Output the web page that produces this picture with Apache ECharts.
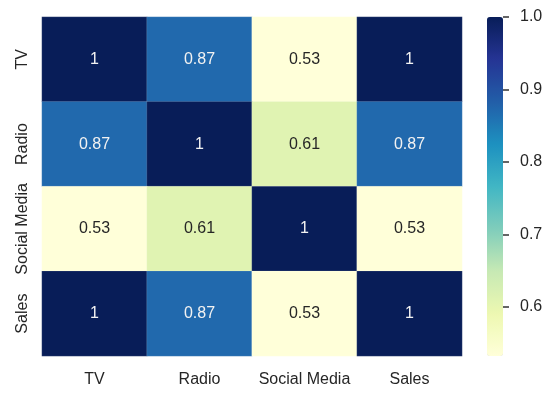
<!DOCTYPE html>
<html>
<head>
<meta charset="utf-8">
<script src="https://cdn.jsdelivr.net/npm/echarts@6/dist/echarts.min.js"></script>
<style>
  html, body { margin: 0; padding: 0; background: #fff; }
  #chart { width: 554px; height: 399px; }
</style>
</head>
<body>
<div id="chart"></div>
<script>
// correlation matrix, rows top to bottom
const labels = ['TV', 'Radio', 'Social Media', 'Sales'];
const rowTV = [1, 0.87, 0.53, 1];
const rowRadio = [0.87, 1, 0.61, 0.87];
const rowSocial = [0.53, 0.61, 1, 0.53];
const rowSales = [1, 0.87, 0.53, 1];
const colorbarTicks = [0.6, 0.7, 0.8, 0.9, 1.0];
const scaleMin = 0.532;
const scaleMax = 1;

const rows = [rowTV, rowRadio, rowSocial, rowSales];
const cells = [];
rows.forEach(function (row, y) {
    row.forEach(function (v, x) {
        cells.push({
            value: [x, y, v],
            label: { color: v > 0.8 ? '#f2f2f2' : '#262626' }
        });
    });
});

const chart = echarts.init(document.getElementById('chart'));
const font = 'Liberation Sans, Arial, sans-serif';

chart.setOption({
    animation: false,
    textStyle: { fontFamily: font },
    grid: [
        { left: 42, top: 17, width: 420, height: 339 },
        { left: 487, top: 17, width: 16, height: 339 }
    ],
    xAxis: [
        {
            type: 'category', gridIndex: 0, data: labels,
            axisLine: { show: false }, axisTick: { show: false },
            axisLabel: { interval: 0, color: '#262626', fontSize: 16, margin: 16, fontFamily: font }
        },
        { type: 'category', gridIndex: 1, show: false, data: [''] }
    ],
    yAxis: [
        {
            type: 'category', gridIndex: 0, data: labels, inverse: true,
            axisLine: { show: false }, axisTick: { show: false },
            axisLabel: { interval: 0, color: '#262626', fontSize: 16, rotate: 90, margin: 11, fontFamily: font }
        },
        {
            type: 'value', gridIndex: 1, position: 'right',
            min: scaleMin, max: scaleMax,
            splitLine: { show: false },
            axisLine: { show: false },
            axisTick: { show: true, length: 6, customValues: colorbarTicks, lineStyle: { color: '#333', width: 1.5 } },
            axisLabel: {
                customValues: colorbarTicks, color: '#262626', fontSize: 16, margin: 17,
                fontFamily: font,
                formatter: function (v) { return v.toFixed(1); }
            }
        }
    ],
    visualMap: {
        type: 'continuous',
        min: scaleMin, max: scaleMax,
        seriesIndex: 0,
        calculable: false,
        left: 487, top: 17,
        padding: 0,
        itemWidth: 16, itemHeight: 339,
        inRange: {
            color: ['#ffffd9', '#edf8b1', '#c7e9b4', '#7fcdbb', '#41b6c4',
                    '#1d91c0', '#225ea8', '#253494', '#081d58']
        }
    },
    series: [{
        type: 'heatmap',
        xAxisIndex: 0, yAxisIndex: 0,
        data: cells,
        label: { show: true, fontSize: 16, fontFamily: font },
        itemStyle: { borderColor: 'rgba(255,255,255,0.25)', borderWidth: 0.5 },
        emphasis: { disabled: true }
    }]
});
</script>
</body>
</html>
